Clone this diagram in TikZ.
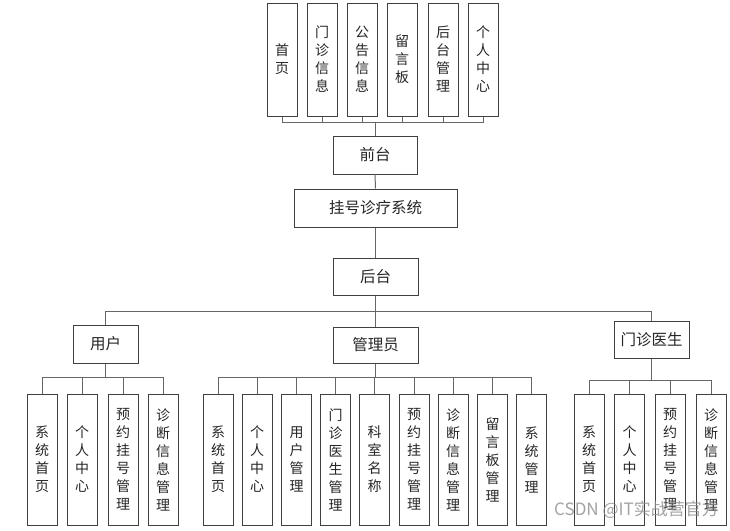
\documentclass[tikz,border=0pt]{standalone}
\usepackage{fontspec}
\newfontfamily\cjk{Noto Sans CJK SC}
\begin{document}
\begin{tikzpicture}[x=1pt,y=-1pt,
  box/.style={draw=black!75, line width=1pt, fill=white, inner sep=0pt, align=center,
    font=\cjk\fontsize{14}{18}\selectfont, text=black!85},
  topbox/.style={box, minimum width=30pt, minimum height=113pt},
  botbox/.style={box, minimum width=30pt, minimum height=131pt},
  hbox/.style={box, font=\cjk\fontsize{15.5}{18}\selectfont},
  link/.style={draw=black!60, line width=1pt},
  wmark/.style={font=\cjk\fontsize{17}{20}\selectfont, text=black!45, opacity=0.8}
]
\useasboundingbox (0,0) rectangle (730,530);
% top level boxes
\node[topbox] (t1) at (282,59.5) {首\\页};
\node[topbox] (t2) at (322,59.5) {门\\诊\\信\\息};
\node[topbox] (t3) at (362,59.5) {公\\告\\信\\息};
\node[topbox] (t4) at (402,59.5) {留\\言\\板};
\node[topbox] (t5) at (443,59.5) {后\\台\\管\\理};
\node[topbox] (t6) at (483,59.5) {个\\人\\中\\心};
% spine
\node[hbox, minimum width=84pt, minimum height=38pt] (qt) at (375,155) {前台};
\node[hbox, minimum width=163pt, minimum height=38pt] (sys) at (375.5,208) {挂号诊疗系统};
\node[hbox, minimum width=85pt, minimum height=37pt] (ht) at (375.5,276.5) {后台};
% second level
\node[hbox, minimum width=65pt, minimum height=38pt] (yh) at (105.5,344) {用户};
\node[hbox, minimum width=85pt, minimum height=36pt] (gly) at (375.5,345) {管理员};
\node[hbox, minimum width=75pt, minimum height=37pt] (ys) at (651.5,339.5) {门诊医生};
% user children
\node[botbox] (u1) at (42,459.5) {系\\统\\首\\页};
\node[botbox] (u2) at (82,459.5) {个\\人\\中\\心};
\node[botbox] (u3) at (123,459.5) {预\\约\\挂\\号\\管\\理};
\node[botbox] (u4) at (163,459.5) {诊\\断\\信\\息\\管\\理};
% admin children
\node[botbox] (a1) at (218,459.5) {系\\统\\首\\页};
\node[botbox] (a2) at (257,459.5) {个\\人\\中\\心};
\node[botbox] (a3) at (296.5,459.5) {用\\户\\管\\理};
\node[botbox] (a4) at (335.5,459.5) {门\\诊\\医\\生\\管\\理};
\node[botbox] (a5) at (374.5,459.5) {科\\室\\名\\称};
\node[botbox] (a6) at (414,459.5) {预\\约\\挂\\号\\管\\理};
\node[botbox] (a7) at (453,459.5) {诊\\断\\信\\息\\管\\理};
\node[botbox] (a8) at (492.5,459.5) {留\\言\\板\\管\\理};
\node[botbox] (a9) at (531.5,459.5) {系\\统\\管\\理};
% doctor children
\node[botbox] (d1) at (589,459.5) {系\\统\\首\\页};
\node[botbox] (d2) at (629.5,459.5) {个\\人\\中\\心};
\node[botbox] (d3) at (670,459.5) {预\\约\\挂\\号\\管\\理};
\node[botbox] (d4) at (711,459.5) {诊\\断\\信\\息\\管\\理};
% bus coordinates
\coordinate (topbus) at (0,122);
\coordinate (midbus) at (0,311);
\coordinate (ubus) at (0,377);
\coordinate (abus) at (0,377);
\coordinate (dbus) at (0,380);
% connectors
\foreach \c in {t1,t2,t3,t4,t5,t6}
  \draw[link] (qt.north) -- (qt.north |- topbus) -| (\c.south);
\draw[link] (qt.south) -- (sys.north);
\draw[link] (sys.south) -- (ht.north);
\draw[link] (ht.south) -- (gly.north);
\foreach \c in {yh,ys}
  \draw[link] (ht.south) -- (ht.south |- midbus) -| (\c.north);
\foreach \c in {u1,u2,u3,u4}
  \draw[link] (yh.south) -- (yh.south |- ubus) -| (\c.north);
\foreach \c in {a1,a2,a3,a4,a5,a6,a7,a8,a9}
  \draw[link] (gly.south) -- (gly.south |- abus) -| (\c.north);
\foreach \c in {d1,d2,d3,d4}
  \draw[link] (ys.south) -- (ys.south |- dbus) -| (\c.north);
% watermark
\node[wmark, anchor=east, inner sep=0pt] (wm) at (719,510) {CSDN @IT实战营官方};
\end{tikzpicture}
\end{document}
